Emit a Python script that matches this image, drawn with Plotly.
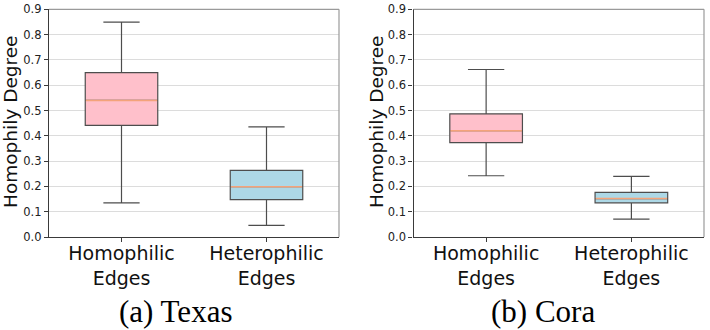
import plotly.graph_objects as go

categories = ["Homophilic<br>Edges", "Heterophilic<br>Edges"]
positions = [1, 2]
box_colors = ["#FFC0CB", "#ADD8E6"]

# Texas
texas_low = [0.135, 0.046]
texas_q1 = [0.441, 0.148]
texas_median = [0.540, 0.199]
texas_q3 = [0.650, 0.263]
texas_high = [0.849, 0.435]

# Cora
cora_low = [0.242, 0.071]
cora_q1 = [0.373, 0.135]
cora_median = [0.420, 0.152]
cora_q3 = [0.487, 0.176]
cora_high = [0.662, 0.240]

yticks = [0.0, 0.1, 0.2, 0.3, 0.4, 0.5, 0.6, 0.7, 0.8, 0.9]
captions = ["(a) Texas", "(b) Cora"]
y_title = "Homophily Degree"

W, H = 710, 330
BOX_W = 0.5
fig = go.Figure()

panels = [
    (texas_low, texas_q1, texas_median, texas_q3, texas_high),
    (cora_low, cora_q1, cora_median, cora_q3, cora_high),
]
x_domains = [[49 / W, 339 / W], [413.5 / W, 704 / W]]
y_domain = [1 - 237 / H, 1 - 9.3 / H]

for p, (lo, q1, med, q3, hi) in enumerate(panels):
    xa = "x" if p == 0 else "x2"
    ya = "y" if p == 0 else "y2"
    for i in range(len(positions)):
        fig.add_trace(go.Box(
            x=[positions[i]], q1=[q1[i]], median=[med[i]], q3=[q3[i]],
            lowerfence=[lo[i]], upperfence=[hi[i]],
            width=BOX_W, whiskerwidth=0.5,
            fillcolor=box_colors[i],
            line=dict(color="#4d4d4d", width=1.2),
            boxpoints=False, hoverinfo="skip",
            xaxis=xa, yaxis=ya, showlegend=False,
        ))
        fig.add_trace(go.Scatter(
            x=[positions[i] - BOX_W / 2 + 0.004, positions[i] + BOX_W / 2 - 0.004],
            y=[med[i], med[i]], mode="lines",
            line=dict(color="#F4A37A", width=1.5),
            xaxis=xa, yaxis=ya, showlegend=False, hoverinfo="skip",
        ))

axis_common = dict(showline=True, linecolor="#3a3a3a", linewidth=1.2,
                   ticks="outside", ticklen=4, tickcolor="#3a3a3a",
                   zeroline=False, automargin=False)

for p in range(2):
    sx = "" if p == 0 else "2"
    fig.update_layout(**{
        f"xaxis{sx}": dict(domain=x_domains[p], range=[0.5, 2.5],
                           tickvals=positions, ticktext=categories,
                           showgrid=False, anchor=f"y{sx}",
                           ticklabelstandoff=-5,
                           tickfont=dict(family="DejaVu Sans", size=19, color="#111"),
                           **axis_common),
        f"yaxis{sx}": dict(domain=y_domain, range=[0, 0.9], tickvals=yticks,
                           ticktext=[f"{v:.1f}" for v in yticks],
                           showgrid=True, gridcolor="#dcdcdc", gridwidth=1,
                           anchor=f"x{sx}",
                           tickfont=dict(family="DejaVu Sans", size=11.5, color="#222"),
                           **axis_common),
    })
    # top and right frame (lighter gray)
    fig.add_shape(type="line", xref=f"x{sx} domain", yref=f"y{sx} domain",
                  x0=0, x1=1, y0=1, y1=1, line=dict(color="#9a9a9a", width=1.2))
    fig.add_shape(type="line", xref=f"x{sx} domain", yref=f"y{sx} domain",
                  x0=1, x1=1, y0=0, y1=1, line=dict(color="#9a9a9a", width=1.2))

title_x = [11 / W, 377 / W]
caption_x = [175 / W, 543 / W]
for p in range(2):
    fig.add_annotation(text=y_title, xref="paper", yref="paper",
                       x=title_x[p], y=1 - 122 / H, textangle=-90,
                       showarrow=False, xanchor="center", yanchor="middle",
                       font=dict(family="DejaVu Sans", size=18.5, color="#111"))
    fig.add_annotation(text=captions[p], xref="paper", yref="paper",
                       x=caption_x[p], y=1 - 311 / H, showarrow=False,
                       xanchor="center", yanchor="middle",
                       font=dict(family="Liberation Serif", size=31, color="#000"))

fig.update_layout(width=W, height=H, margin=dict(l=0, r=0, t=0, b=0),
                  paper_bgcolor="white", plot_bgcolor="white")

fig.write_html("out.html", config={"displayModeBar": False},
               post_script="document.body.style.margin='0';document.body.style.overflow='hidden';")
